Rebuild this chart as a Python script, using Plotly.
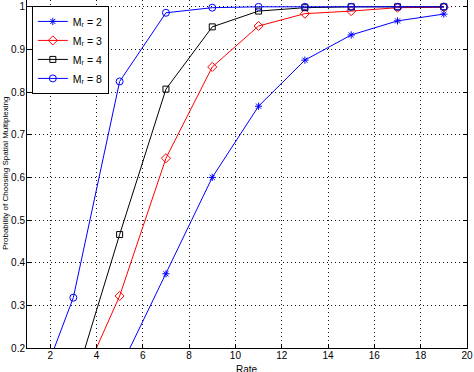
import plotly.graph_objects as go

rate = [1, 3, 5, 7, 9, 11, 13, 15, 17, 19]
mr2 = [0.01, 0.05, 0.15, 0.374, 0.600, 0.767, 0.875, 0.934, 0.967, 0.983]
mr3 = [0.01, 0.078, 0.322, 0.645, 0.859, 0.955, 0.984, 0.990, 0.998, 0.999]
mr4 = [0.01, 0.11, 0.466, 0.807, 0.953, 0.990, 0.998, 1.0, 1.0, 1.0]
mr8 = [0.03, 0.318, 0.825, 0.986, 0.998, 1.0, 1.0, 1.0, 1.0, 1.0]

x_ticks = [2, 4, 6, 8, 10, 12, 14, 16, 18, 20]
y_ticks = [0.2, 0.3, 0.4, 0.5, 0.6, 0.7, 0.8, 0.9, 1.0]
y_tick_text = ["0.2", "0.3", "0.4", "0.5", "0.6", "0.7", "0.8", "0.9", "1"]

series = [
    ("M\u1d63 = 2", mr2, "#0000ff", "asterisk-open", 6),
    ("M\u1d63 = 3", mr3, "#ff0000", "diamond-open", 7),
    ("M\u1d63 = 4", mr4, "#000000", "square-open", 6),
    ("M\u1d63 = 8", mr8, "#0000ff", "circle-open", 7),
]

fig = go.Figure()
for name, vals, col, sym, sz in series:
    fig.add_trace(go.Scatter(
        x=rate, y=vals, name=name, mode="lines+markers",
        line=dict(color=col, width=1),
        marker=dict(symbol=sym, size=sz, color=col, line=dict(color=col, width=1)),
    ))

font = "Liberation Sans, Arial, Helvetica, sans-serif"
grid = dict(showgrid=True, gridcolor="#111111", griddash="1px,3px", gridwidth=1)
fig.update_layout(
    width=474, height=372,
    margin=dict(l=27, r=7, t=0, b=24),
    paper_bgcolor="white", plot_bgcolor="white",
    font=dict(family=font, size=10, color="black"),
    showlegend=True,
    legend=dict(
        x=0.011, y=0.983, xanchor="left", yanchor="top",
        bgcolor="white", bordercolor="black", borderwidth=1,
        font=dict(size=10.5, family=font, color="black"),
        tracegroupgap=0, itemwidth=30,
    ),
    xaxis=dict(
        range=[1, 20.001], tickvals=x_ticks, ticks="inside", ticklen=4,
        tickcolor="black", showline=True, linecolor="black", linewidth=1,
        mirror=False, zeroline=False, automargin=False,
        ticklabelstandoff=-2,
        tickfont=dict(size=10, family=font, color="black"), **grid,
    ),
    yaxis=dict(
        range=[0.2, 1.016], tickvals=y_ticks, ticktext=y_tick_text,
        ticks="inside", ticklen=4, tickcolor="black", showline=True,
        linecolor="black", linewidth=1, mirror="ticks", zeroline=False,
        automargin=False, ticklabelstandoff=-1,
        tickfont=dict(size=10, family=font, color="black"), **grid,
    ),
    annotations=[
        dict(text="Rate", xref="paper", yref="paper", x=0.5, y=0,
             xanchor="center", yanchor="top", yshift=-14, showarrow=False,
             font=dict(size=10, family=font, color="black")),
        dict(text="Probability of Choosing Spatial Multiplexing", xref="paper",
             yref="paper", x=0, y=0.5, xanchor="center", yanchor="middle",
             xshift=-22, textangle=-90, showarrow=False,
             font=dict(size=8, family=font, color="black")),
    ],
)

fig.write_html("out.html", config={"displayModeBar": False},
               post_script="document.body.style.margin='0';document.body.style.overflow='hidden';")
